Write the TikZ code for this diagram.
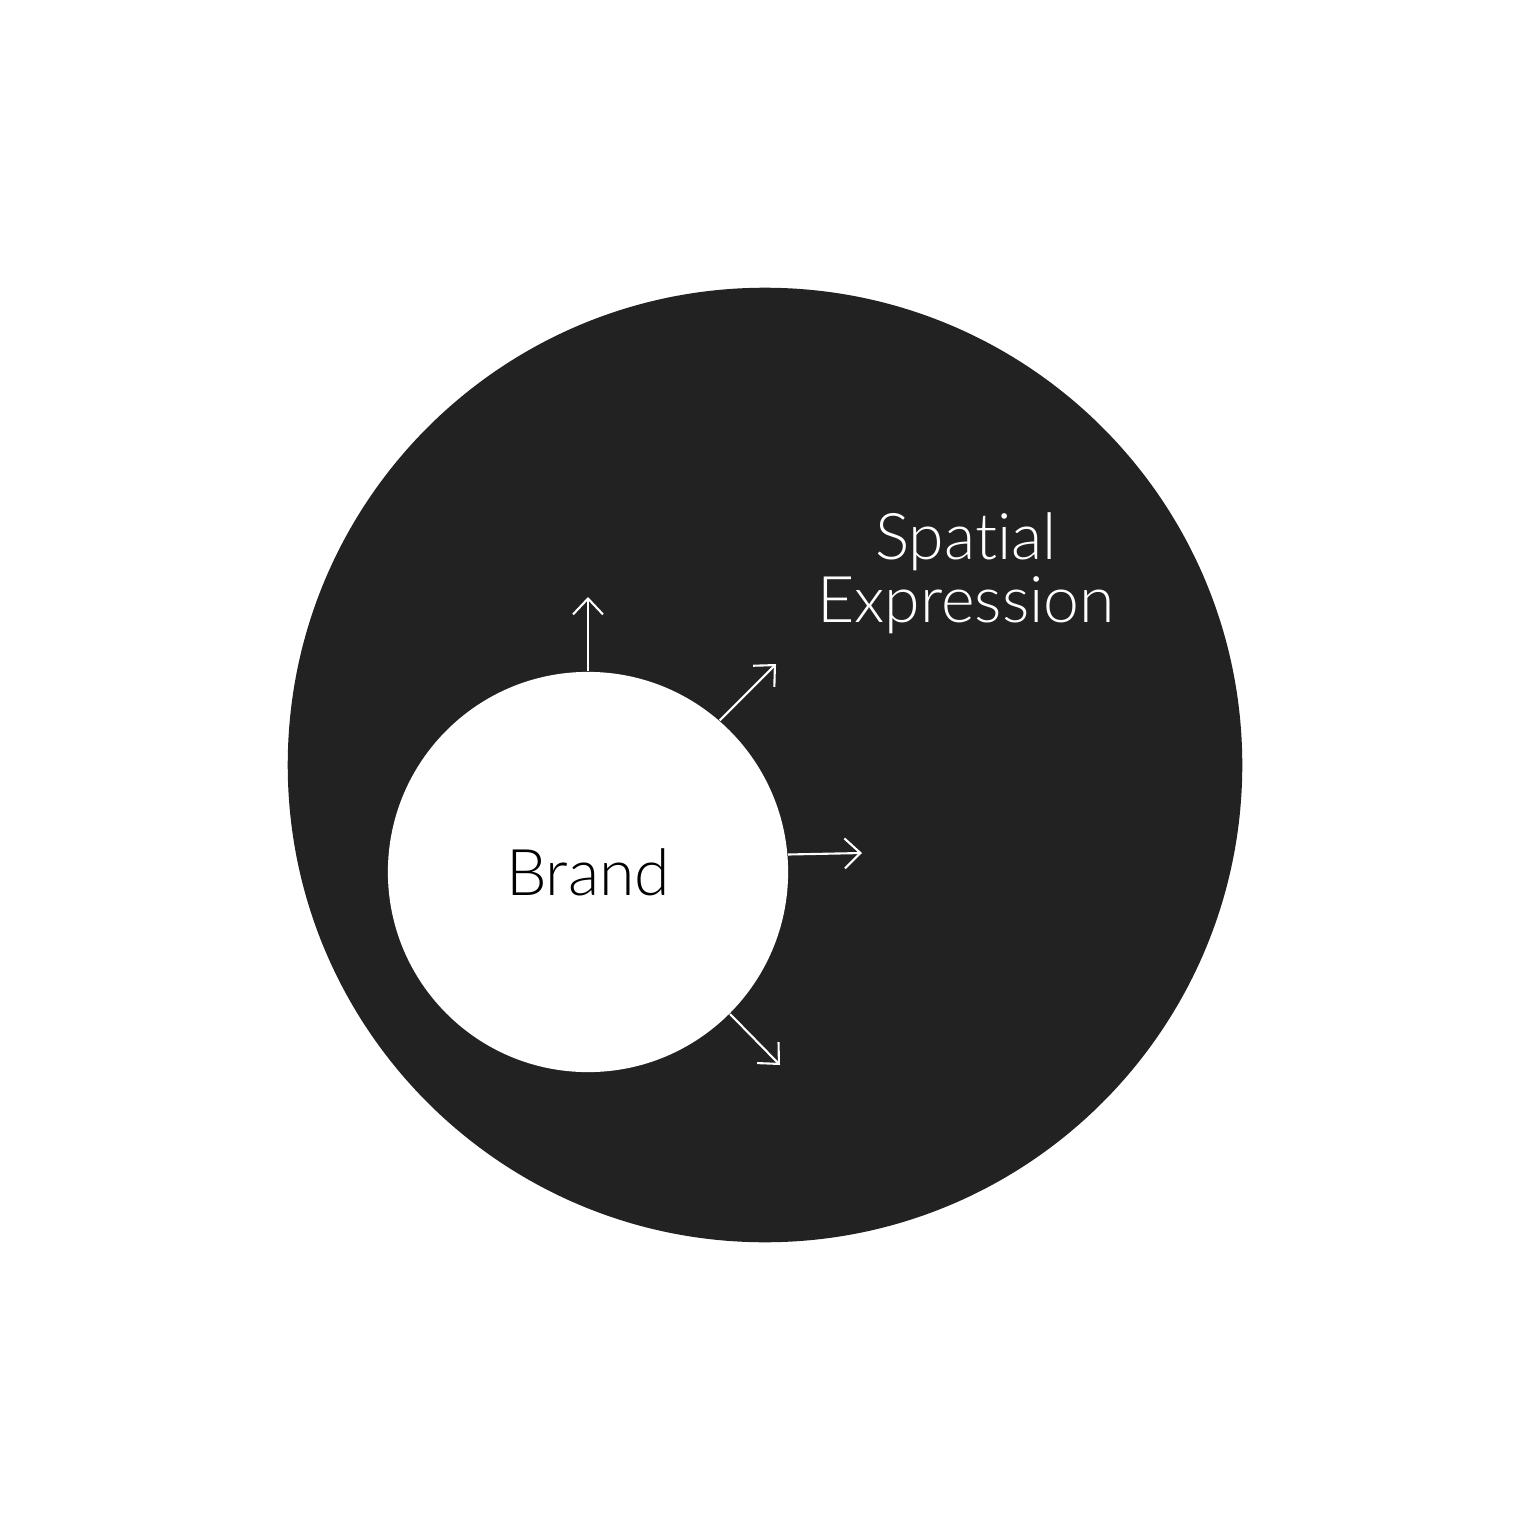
\documentclass[tikz,border=0pt]{standalone}
\usepackage{fontspec}
\setmainfont{Lato}[UprightFont=*-Light, Ligatures=NoCommon]
\usetikzlibrary{arrows.meta}

\definecolor{darkfill}{HTML}{222222}

\begin{document}
\begin{tikzpicture}[x=0.01cm, y=-0.01cm,
    outward/.style={draw=white, line width=0.6pt, -{Straight Barb[length=4.5pt, width=8.5pt]}},
    label text/.style={font=\fontsize{18.3}{18}\selectfont, align=center}]

  \useasboundingbox[fill=white] (0,0) rectangle (1531,1531);

  % Define nodes
  \node[circle, fill=darkfill, minimum size=9.54cm, inner sep=0pt] (space) at (765,765) {};
  \node[circle, fill=white, minimum size=4cm, inner sep=0pt, label text] (brand) at (588,872) {Brand};
  \node[label text, text=white] (spatial) at (966,573) {Spatial\\Expression};

  % Arrow ends
  \coordinate (up) at (588,597);
  \coordinate (upright) at (776,664);
  \coordinate (right) at (862,853);
  \coordinate (downright) at (780,1065);

  % Connect the nodes
  \draw [outward] (brand.90) -- (up);
  \draw [outward] (brand.49) -- (upright);
  \draw [outward] (brand.5.4) -- (right);
  \draw [outward] (brand.-45) -- (downright);

\end{tikzpicture}
\end{document}
